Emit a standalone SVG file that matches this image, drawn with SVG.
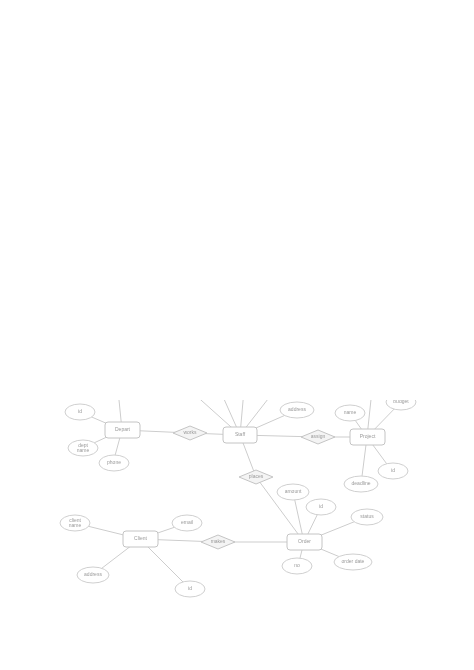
<svg xmlns="http://www.w3.org/2000/svg" width="474" height="670" viewBox="0 0 474 670">
<style>
.e{fill:#fff;stroke:#c4c4c4;stroke-width:1}
.a{fill:#fff;stroke:#cfcfcf;stroke-width:1}
.r{fill:#f4f4f4;stroke:#c4c4c4;stroke-width:1}
.c{stroke:#cdcdcd;stroke-width:1;fill:none}
text{font-family:"Liberation Sans",Arial,sans-serif;font-size:5px;fill:#9a9a9a;text-anchor:middle;dominant-baseline:middle}
</style>
<defs>
<clipPath id="clip"><rect x="0" y="400" width="474" height="270"/></clipPath>
<filter id="blur" x="-5%" y="-5%" width="110%" height="110%"><feGaussianBlur stdDeviation="0.7"/></filter>
</defs>
<rect width="474" height="670" fill="#fff"/>
<g clip-path="url(#clip)" filter="url(#blur)">
<g id="connectors">
<line class="c" x1="80" y1="412" x2="122" y2="430"/>
<line class="c" x1="122" y1="430" x2="118" y2="390"/>
<line class="c" x1="83" y1="448" x2="122" y2="430"/>
<line class="c" x1="113" y1="463" x2="122" y2="430"/>
<line class="c" x1="122" y1="430" x2="190" y2="433"/>
<line class="c" x1="190" y1="433" x2="240" y2="435"/>
<line class="c" x1="240" y1="435" x2="192" y2="392"/>
<line class="c" x1="240" y1="435" x2="220" y2="390"/>
<line class="c" x1="240" y1="435" x2="244" y2="390"/>
<line class="c" x1="240" y1="435" x2="275" y2="390"/>
<line class="c" x1="240" y1="435" x2="297" y2="410"/>
<line class="c" x1="240" y1="435" x2="318" y2="437"/>
<line class="c" x1="318" y1="437" x2="367" y2="437"/>
<line class="c" x1="240" y1="435" x2="256" y2="477"/>
<line class="c" x1="256" y1="477" x2="304" y2="542"/>
<line class="c" x1="350" y1="413" x2="367" y2="437"/>
<line class="c" x1="367" y1="437" x2="372" y2="390"/>
<line class="c" x1="367" y1="437" x2="400" y2="403"/>
<line class="c" x1="367" y1="437" x2="392" y2="471"/>
<line class="c" x1="367" y1="437" x2="361" y2="484"/>
<line class="c" x1="293" y1="492" x2="304" y2="542"/>
<line class="c" x1="321" y1="507" x2="304" y2="542"/>
<line class="c" x1="366" y1="517" x2="304" y2="542"/>
<line class="c" x1="298" y1="566" x2="304" y2="542"/>
<line class="c" x1="352" y1="562" x2="304" y2="542"/>
<line class="c" x1="140" y1="539" x2="218" y2="542"/>
<line class="c" x1="218" y1="542" x2="304" y2="542"/>
<line class="c" x1="75" y1="523" x2="140" y2="539"/>
<line class="c" x1="187" y1="523" x2="140" y2="539"/>
<line class="c" x1="93" y1="575" x2="140" y2="539"/>
<line class="c" x1="190" y1="589" x2="140" y2="539"/>
</g>
<g id="rel1"><polygon class="r" points="173,433 190,426 207,433 190,440"/><text x="190" y="433">works</text></g>
<g id="rel2"><polygon class="r" points="301,437 318,430 335,437 318,444"/><text x="318" y="437">assign</text></g>
<g id="rel3"><polygon class="r" points="239,477 256,470 273,477 256,484"/><text x="256" y="477">places</text></g>
<g id="rel4"><polygon class="r" points="201,542 218,535 235,542 218,549"/><text x="218" y="542">makes</text></g>
<g id="ent1"><rect class="e" x="105" y="422" width="35" height="16" rx="3"/><text x="122.5" y="430">Depart</text></g>
<g id="ent2"><rect class="e" x="223" y="427" width="34" height="16" rx="3"/><text x="240" y="435">Staff</text></g>
<g id="ent3"><rect class="e" x="350" y="429" width="35" height="16" rx="3"/><text x="367.5" y="437">Project</text></g>
<g id="ent4"><rect class="e" x="123" y="531" width="35" height="16" rx="3"/><text x="140.5" y="539">Client</text></g>
<g id="ent5"><rect class="e" x="287" y="534" width="35" height="16" rx="3"/><text x="304.5" y="542">Order</text></g>
<g id="att1"><ellipse class="a" cx="80" cy="412" rx="15" ry="8"/><text x="80" y="412">id</text></g>
<g id="att2"><ellipse class="a" cx="83" cy="448" rx="15" ry="8"/><text x="83" y="446">dept</text><text x="83" y="451">name</text></g>
<g id="att3"><ellipse class="a" cx="114" cy="463" rx="15" ry="8"/><text x="114" y="463">phone</text></g>
<g id="att4"><ellipse class="a" cx="297" cy="410" rx="17" ry="8"/><text x="297" y="410">address</text></g>
<g id="att5"><ellipse class="a" cx="350" cy="413" rx="15" ry="8"/><text x="350" y="413">name</text></g>
<g id="att6"><ellipse class="a" cx="401" cy="402" rx="15" ry="8"/><text x="401" y="402">budget</text></g>
<g id="att7"><ellipse class="a" cx="393" cy="471" rx="15" ry="8"/><text x="393" y="471">id</text></g>
<g id="att8"><ellipse class="a" cx="361" cy="484" rx="17" ry="8"/><text x="361" y="484">deadline</text></g>
<g id="att9"><ellipse class="a" cx="293" cy="492" rx="16" ry="8"/><text x="293" y="492">amount</text></g>
<g id="att10"><ellipse class="a" cx="321" cy="507" rx="15" ry="8"/><text x="321" y="507">id</text></g>
<g id="att11"><ellipse class="a" cx="367" cy="517" rx="16" ry="8"/><text x="367" y="517">status</text></g>
<g id="att12"><ellipse class="a" cx="297" cy="566" rx="15" ry="8"/><text x="297" y="566">no</text></g>
<g id="att13"><ellipse class="a" cx="353" cy="562" rx="19" ry="8"/><text x="353" y="562">order date</text></g>
<g id="att14"><ellipse class="a" cx="75" cy="523" rx="15" ry="8"/><text x="75" y="521">client</text><text x="75" y="526">name</text></g>
<g id="att15"><ellipse class="a" cx="187" cy="523" rx="15" ry="8"/><text x="187" y="523">email</text></g>
<g id="att16"><ellipse class="a" cx="93" cy="575" rx="16" ry="8"/><text x="93" y="575">address</text></g>
<g id="att17"><ellipse class="a" cx="190" cy="589" rx="15" ry="8"/><text x="190" y="589">id</text></g>
</g>
</svg>
